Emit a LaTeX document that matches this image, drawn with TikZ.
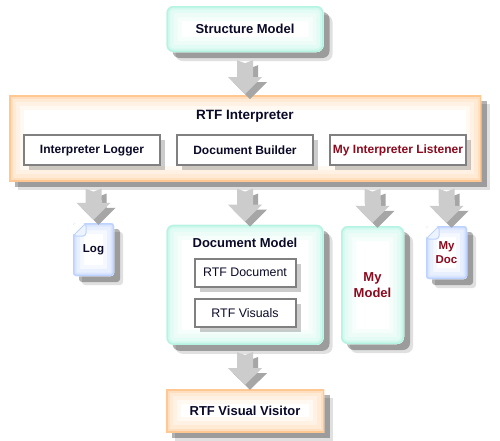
\documentclass[tikz,border=0pt]{standalone}
\usepackage{fontspec}
\setmainfont{Liberation Sans}
\usetikzlibrary{arrows.meta,positioning,shadows}
\definecolor{mint}{HTML}{A8F2DE}
\definecolor{peach}{HTML}{FFBE80}
\definecolor{pageblue}{HTML}{BCD2FF}
\definecolor{inkdark}{HTML}{0A0A28}
\definecolor{maroon}{HTML}{8B0A1E}
\definecolor{linegray}{HTML}{808080}
\definecolor{arrowgray}{HTML}{CCCCCC}
\definecolor{arrowshade}{HTML}{A6A6A6}
\begin{document}
\begin{tikzpicture}[
    x=1pt, y=-1pt,
    softshadow/.style={
      drop shadow={shadow xshift=9pt, shadow yshift=-9pt, fill=black, opacity=.12},
      drop shadow={shadow xshift=6pt, shadow yshift=-6pt, fill=black, opacity=.3}},
    glow/.style={softshadow, path picture={
      \foreach \w/\t in {30/10,22/20,14/32,7/50,3/85}
        \draw[line width=\w pt, #1!\t!white] (path picture bounding box.south west) rectangle (path picture bounding box.north east);
    }},
    bigbox/.style={inner sep=0pt, align=center, font=\fontsize{13}{15}\selectfont\bfseries, text=inkdark},
    mintbox/.style={bigbox, glow=mint, fill=white, rounded corners=7pt},
    peachbox/.style={bigbox, glow=peach, fill=white},
    pagebox/.style={bigbox, fill=white, rounded corners=3pt, minimum width=41pt, minimum height=53pt, font=\fontsize{11.5}{14}\selectfont\bfseries, softshadow, path picture={
      \foreach \w/\t in {22/15,14/35,7/55,3/100}
        \draw[line width=\w pt, pageblue!\t!white] (path picture bounding box.south west) rectangle (path picture bounding box.north east);
      \fill[white] (path picture bounding box.north west) ++(0pt,-13pt) -- ++(13pt,13pt) -- ++(-13pt,0pt) -- cycle;
      \draw[pageblue, line width=1pt, fill=pageblue!25!white] (path picture bounding box.north west) ++(0pt,-13pt) -- ++(13pt,13pt) -- ++(0pt,-13pt) -- cycle;
    }},
    innerbox/.style={draw=linegray, line width=2pt, fill=white, inner sep=0pt, minimum width=136pt, minimum height=30pt, text=inkdark,
      drop shadow={shadow xshift=5pt, shadow yshift=-5pt, fill=black, opacity=.2}},
    bigarrow/.style={{Triangle Cap[reversed,length=3pt]}-{Triangle[width=33pt,length=17pt]}, line width=16pt, draw=arrowgray, shorten <=7pt, shorten >=3pt,
      preaction={draw=arrowshade, transform canvas={shift={(5pt,-5pt)}}}}
  ]
    \useasboundingbox[fill=white] (0,0) rectangle (500,440);
    \node[mintbox, minimum width=157pt, minimum height=46pt] (structure) at (245,29) {Structure Model};
    \node[peachbox, minimum width=472pt, minimum height=86pt, below=43pt of structure] (interp) {};
    \node[bigbox, font=\fontsize{13.5}{15}\selectfont\bfseries, below=15pt of interp.north] (interptitle) {RTF Interpreter};
    \node[innerbox, font=\fontsize{12}{15}\selectfont\bfseries, below=39pt of interp.north] (builder) {Document Builder};
    \node[innerbox, font=\fontsize{12}{15}\selectfont\bfseries, left=15pt of builder] (logger) {Interpreter Logger};
    \node[innerbox, font=\fontsize{12}{15}\selectfont\bfseries, right=15pt of builder, text=maroon] (listener) {My Interpreter Listener};

    \node[mintbox, minimum width=157pt, minimum height=120pt, below=43pt of interp] (docmodel) {};
    \node[bigbox, below=13pt of docmodel.north] (docmodeltitle) {Document Model};
    \node[innerbox, minimum width=101pt, minimum height=28pt, font=\fontsize{12.4}{15}\selectfont, below=33pt of docmodel.north] (rtfdoc) {RTF Document};
    \node[innerbox, minimum width=101pt, minimum height=28pt, font=\fontsize{12.4}{15}\selectfont, below=10pt of rtfdoc] (visuals) {RTF Visuals};
    \node[peachbox, minimum width=158pt, minimum height=43pt, below=44pt of docmodel] (visitor) {RTF Visual Visitor};

    \node[pagebox] (log) at (93.5,249.5) {Log};
    \node[mintbox, minimum width=63pt, minimum height=118pt, text=maroon, font=\fontsize{13}{16}\selectfont\bfseries] (mymodel) at (372.5,285) {My\\Model};
    \node[pagebox, text=maroon] (mydoc) at (446.5,252.5) {My\\Doc};

    \draw[bigarrow, shorten <=8pt, shorten >=1pt] (structure) -- (interp);
    \draw[bigarrow] (interp.south -| log.north) -- (log.north);
    \draw[bigarrow] (interp.south -| docmodel.north) -- (docmodel.north);
    \draw[bigarrow] (interp.south -| mymodel.north) -- (mymodel.north);
    \draw[bigarrow] (interp.south -| mydoc.north) -- (mydoc.north);
    \draw[bigarrow, shorten >=4pt] (docmodel) -- (visitor);
\end{tikzpicture}
\end{document}
